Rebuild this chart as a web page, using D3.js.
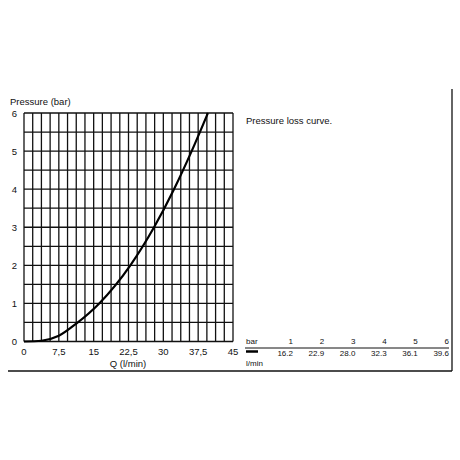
<!DOCTYPE html>
<meta charset="utf-8">
<style>
body { margin: 0; background: #fff; }
text { font-family: "Liberation Sans", Arial, sans-serif; fill: #111; }
.grid line { stroke: #111; stroke-width: 1.3px; }
</style>
<svg width="460" height="460"></svg>
<script src="https://d3js.org/d3.v7.min.js"></script>
<script>

// pressure loss curve: bar vs l/min
var pressure = [0, 0.02, 0.15, 0.47, 1, 2, 3, 4, 5, 6];
var flow = [0, 3.75, 7.5, 11.25, 16.2, 22.9, 28.0, 32.3, 36.1, 39.6];

var tableBar = ["1", "2", "3", "4", "5", "6"];
var tableFlow = ["16.2", "22.9", "28.0", "32.3", "36.1", "39.6"];

var xTicks = [0, 7.5, 15, 22.5, 30, 37.5, 45];
var yTicks = [0, 1, 2, 3, 4, 5, 6];

var svg = d3.select("svg");

var x = d3.scaleLinear().domain([0, 45]).range([24, 233]),
    y = d3.scaleLinear().domain([0, 6]).range([341.5, 113]);

// frame
svg.append("line").attr("x1", 452).attr("x2", 452).attr("y1", 89).attr("y2", 371)
  .attr("stroke", "#111").attr("stroke-width", 1.3);
svg.append("line").attr("x1", 8).attr("x2", 452).attr("y1", 371).attr("y2", 371)
  .attr("stroke", "#111").attr("stroke-width", 1.3);

var g = svg.append("g").attr("class", "grid");

g.selectAll(".v")
  .data(d3.range(0, 25).map(function(i) { return i * 1.875; }))
  .enter().append("line")
  .attr("x1", function(d) { return x(d); })
  .attr("x2", function(d) { return x(d); })
  .attr("y1", y(0)).attr("y2", y(6));

g.selectAll(".h")
  .data(d3.range(0, 13).map(function(i) { return i * 0.5; }))
  .enter().append("line")
  .attr("y1", function(d) { return y(d); })
  .attr("y2", function(d) { return y(d); })
  .attr("x1", x(0)).attr("x2", x(45));

// tick labels
svg.selectAll(".xt")
  .data(xTicks)
  .enter().append("text")
  .attr("x", function(d) { return x(d); })
  .attr("y", 355)
  .attr("text-anchor", "middle")
  .style("font-size", "9.5px")
  .text(function(d) { return String(d).replace(".", ","); });

svg.selectAll(".yt")
  .data(yTicks)
  .enter().append("text")
  .attr("x", 17)
  .attr("y", function(d) { return y(d) + 3.5; })
  .attr("text-anchor", "end")
  .style("font-size", "9.5px")
  .text(function(d) { return d; });

svg.append("text").attr("x", 10).attr("y", 105).style("font-size", "9.5px").text("Pressure (bar)");
svg.append("text").attr("x", 128).attr("y", 367).attr("text-anchor", "middle")
  .style("font-size", "9.5px").text("Q (l/min)");
svg.append("text").attr("x", 246).attr("y", 124).style("font-size", "9.5px").text("Pressure loss curve.");

// curve
var pts = flow.map(function(q, i) { return [q, pressure[i]]; });
var line = d3.line()
  .x(function(d) { return x(d[0]); })
  .y(function(d) { return y(d[1]); })
  .curve(d3.curveMonotoneX);

svg.append("path")
  .datum(pts)
  .attr("d", line)
  .attr("fill", "none")
  .attr("stroke", "#000")
  .attr("stroke-width", 2.2);

// table
var colX = d3.scalePoint().domain(tableBar).range([293, 449]);

svg.append("text").attr("x", 246).attr("y", 344).style("font-size", "8px").text("bar");
svg.append("text").attr("x", 246).attr("y", 366).style("font-size", "8px").text("l/min");

svg.selectAll(".tb")
  .data(tableBar)
  .enter().append("text")
  .attr("x", function(d) { return colX(d); })
  .attr("y", 344)
  .attr("text-anchor", "end")
  .style("font-size", "8px")
  .text(function(d) { return d; });

svg.selectAll(".tf")
  .data(tableFlow)
  .enter().append("text")
  .attr("x", function(d, i) { return colX(tableBar[i]); })
  .attr("y", 355.5)
  .attr("text-anchor", "end")
  .style("font-size", "8px")
  .text(function(d) { return d; });

svg.append("line").attr("x1", 245).attr("x2", 449).attr("y1", 348).attr("y2", 348)
  .attr("stroke", "#111").attr("stroke-width", 1);
svg.append("line").attr("x1", 246).attr("x2", 258).attr("y1", 351.5).attr("y2", 351.5)
  .attr("stroke", "#000").attr("stroke-width", 2.5);

</script>
